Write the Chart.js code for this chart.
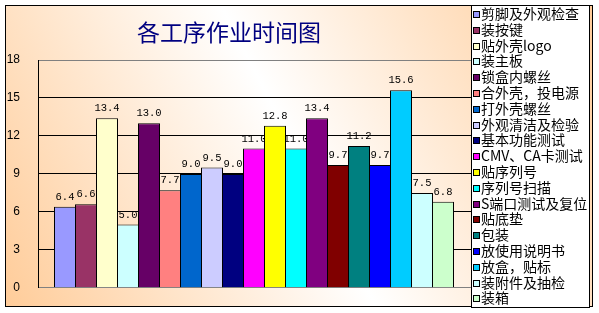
<!DOCTYPE html>
<html>
<head>
<meta charset="utf-8">
<script src="https://cdn.jsdelivr.net/npm/chart.js@4/dist/chart.umd.min.js"></script>
<style>
html, body { margin: 0; padding: 0; background: #fff; }
#wrap { position: relative; width: 599px; height: 313px; overflow: hidden; }
#c { position: absolute; left: 0; top: 0; }
#legend {
  position: absolute; left: 471px; top: 5px; width: 119px; height: 303px;
  box-sizing: border-box; border: 1px solid #000; background: #fff;
  font-family: "Noto Sans CJK SC", sans-serif; font-size: 14px; color: #000;
  padding-top: 0.6px;
}
.item { height: 15.8px; line-height: 15.8px; display: flex; align-items: center; white-space: nowrap; }
.sw { width: 5px; height: 5px; border: 1px solid #000; margin-left: 1px; margin-right: 1px; flex: none; box-sizing: content-box; }
.tx { position: relative; top: -0.5px; }
</style>
</head>
<body>
<div id="wrap">
  <canvas id="c" width="599" height="313"></canvas>
  <div id="legend"></div>
</div>
<script>
// ---- data ----
const titleText = '各工序作业时间图';
const categories = [
  '剪脚及外观检查', '装按键', '贴外壳logo', '装主板', '锁盒内螺丝',
  '合外壳，投电源', '打外壳螺丝', '外观清洁及检验', '基本功能测试', 'CMV、CA卡测试',
  '贴序列号', '序列号扫描', 'S端口测试及复位', '贴底垫', '包装',
  '放使用说明书', '放盒，贴标', '装附件及抽检', '装箱'
];
const values = [6.4, 6.6, 13.4, 5.0, 13.0, 7.7, 9.0, 9.5, 9.0, 11.0, 12.8, 11.0, 13.4, 9.7, 11.2, 9.7, 15.6, 7.5, 6.8];
const colors = [
  '#9999FF', '#993366', '#FFFFCC', '#CCFFFF', '#660066',
  '#FF8080', '#0066CC', '#CCCCFF', '#000080', '#FF00FF',
  '#FFFF00', '#00FFFF', '#800080', '#800000', '#008080',
  '#0000FF', '#00CCFF', '#CCFFFF', '#CCFFCC'
];
const yTicks = [0, 3, 6, 9, 12, 15, 18];

// ---- legend (HTML) ----
const legendEl = document.getElementById('legend');
categories.forEach((name, i) => {
  const row = document.createElement('div');
  row.className = 'item';
  const sw = document.createElement('span');
  sw.className = 'sw';
  sw.style.background = colors[i];
  const tx = document.createElement('span');
  tx.className = 'tx';
  tx.textContent = name;
  row.appendChild(sw);
  row.appendChild(tx);
  legendEl.appendChild(row);
});

// ---- plugins ----
const bgPlugin = {
  id: 'bg',
  beforeDraw(chart) {
    const ctx = chart.ctx;
    ctx.save();
    ctx.fillStyle = '#fff';
    ctx.fillRect(0, 0, chart.width, chart.height);
    const g = ctx.createLinearGradient(5, 307, 592, 5);
    g.addColorStop(0, '#FFCC99');
    g.addColorStop(0.5, '#FFFFFF');
    g.addColorStop(1, '#FFCC99');
    ctx.fillStyle = g;
    ctx.fillRect(5, 5, 587, 302);
    ctx.strokeStyle = '#000';
    ctx.lineWidth = 1;
    ctx.strokeRect(5.5, 5.5, 587, 301);
    ctx.restore();
  }
};

const titleShift = {
  id: 'titleShift',
  afterLayout(chart) {
    if (chart.titleBlock) chart.titleBlock.left -= 14;
  }
};

const labelPlugin = {
  id: 'valueLabels',
  beforeDatasetsDraw(chart) {
    const ctx = chart.ctx;
    const meta = chart.getDatasetMeta(0);
    ctx.save();
    ctx.font = '10.5px "Liberation Mono", monospace';
    ctx.fillStyle = '#000';
    ctx.textAlign = 'center';
    ctx.textBaseline = 'alphabetic';
    meta.data.forEach((bar, i) => {
      ctx.fillText(values[i].toFixed(1), bar.x, bar.y - 7);
    });
    ctx.restore();
  }
};

new Chart(document.getElementById('c'), {
  type: 'bar',
  data: {
    datasets: [{
      label: titleText,
      data: values.map((v, i) => ({ x: i, y: v })),
      backgroundColor: colors,
      borderColor: '#000',
      borderWidth: 1,
      borderSkipped: 'start',
      categoryPercentage: 1,
      barPercentage: 22 / 21,
      inflateAmount: 0
    }]
  },
  options: {
    responsive: false,
    animation: false,
    events: [],
    layout: { padding: { left: 0, right: 127, top: 0, bottom: 16 } },
    plugins: {
      legend: { display: false },
      tooltip: { enabled: false },
      title: {
        display: true,
        text: titleText,
        color: '#000080',
        font: { family: '"Noto Sans CJK SC"', size: 23, weight: 'normal', lineHeight: '28px' },
        padding: { top: 18, bottom: 14 }
      }
    },
    scales: {
      x: {
        type: 'linear',
        offset: false,
        grid: { offset: false, display: false },
        min: -27 / 21,
        max: -27 / 21 + 434 / 21,
        display: false,
        ticks: { stepSize: 5 }
      },
      y: {
        min: 0,
        max: 18,
        afterBuildTicks: (s) => { s.ticks = yTicks.map(v => ({ value: v })); },
        ticks: {
          stepSize: 3,
          padding: 18,
          color: '#000',
          font: { family: '"Liberation Sans"', size: 12 }
        },
        grid: {
          drawTicks: false,
          lineWidth: 1,
          color: (ctx) => (ctx.tick && (ctx.tick.value === 0 || ctx.tick.value === 18)) ? '#808080' : '#000'
        },
        border: { display: true, color: '#000', width: 1 },
        afterFit: (s) => { s.width = 38; }
      }
    }
  },
  plugins: [bgPlugin, titleShift, labelPlugin]
});
</script>
</body>
</html>
